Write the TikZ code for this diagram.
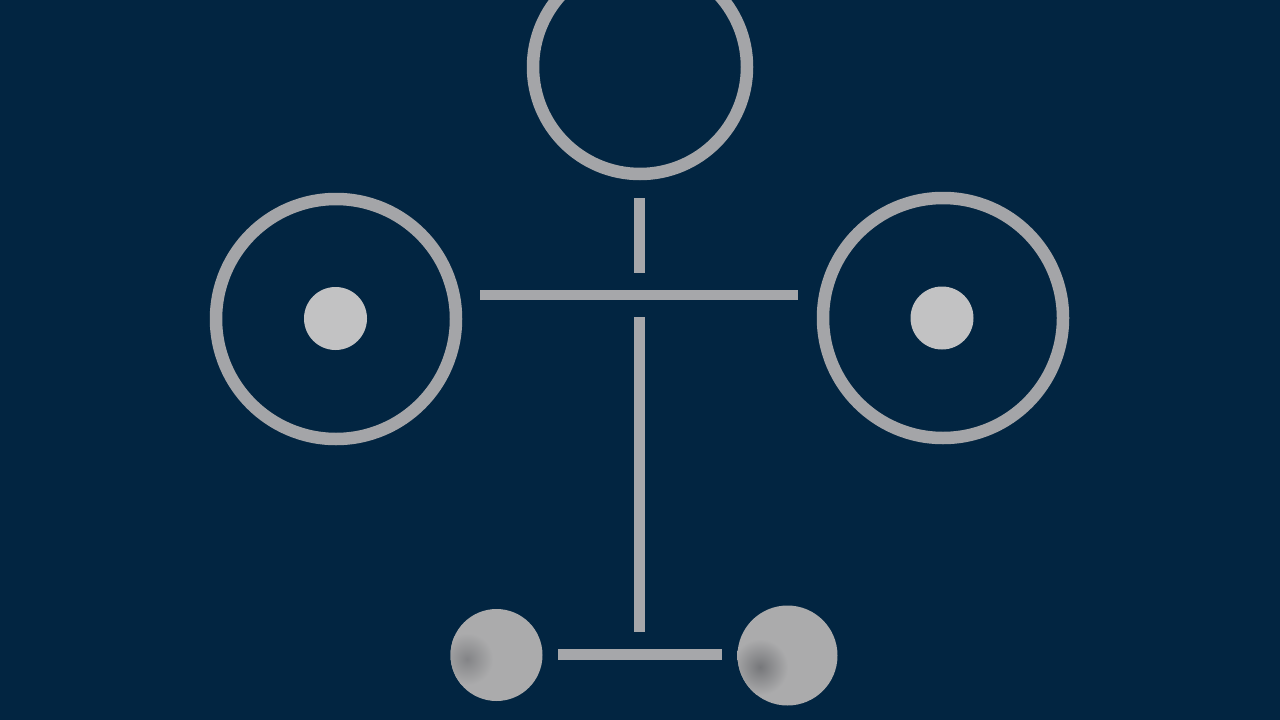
\documentclass[tikz,border=0pt]{standalone}
\begin{document}
\begin{tikzpicture}[x=1pt,y=-1pt,
  ringstyle/.style={draw=ringgrey,line width=12.5pt},
  barstyle/.style={fill=bargrey},
  dotstyle/.style={fill=dotgrey}]
\definecolor{bg}{HTML}{022541}
\definecolor{ringgrey}{HTML}{A4A5A8}
\definecolor{bargrey}{HTML}{A6A7AA}
\definecolor{dotgrey}{HTML}{C2C2C3}
\definecolor{ballgrey}{HTML}{ABABAC}
\definecolor{balldark}{HTML}{76777A}
\fill[bg] (0,0) rectangle (1280,720);
\useasboundingbox (0,0) rectangle (1280,720);
% top ring
\draw[ringstyle] (640,67) circle (107);
% side rings
\draw[ringstyle] (336,319) circle (120);
\draw[ringstyle] (943,318) circle (120);
\fill[dotstyle] (335.5,318.5) circle (31.5);
\fill[dotstyle] (942,318) circle (31.5);
% bars
\fill[barstyle] (634,198) rectangle (645,273);
\fill[barstyle] (480,290) rectangle (798,300);
\fill[barstyle] (634,317) rectangle (645,632);
\fill[barstyle] (558,649) rectangle (722,660);
% bottom balls
\fill[ballgrey] (496.5,655) circle (46);
\begin{scope}
\clip (496.5,655) circle (46);
\shade[inner color=balldark!75!ballgrey,outer color=ballgrey] (467,659) circle (26);
\end{scope}
\fill[ballgrey] (787.5,655.5) circle (50);
\begin{scope}
\clip (787.5,655.5) circle (50);
\shade[inner color=balldark,outer color=ballgrey] (760,667) circle (28);
\end{scope}
\end{tikzpicture}
\end{document}
